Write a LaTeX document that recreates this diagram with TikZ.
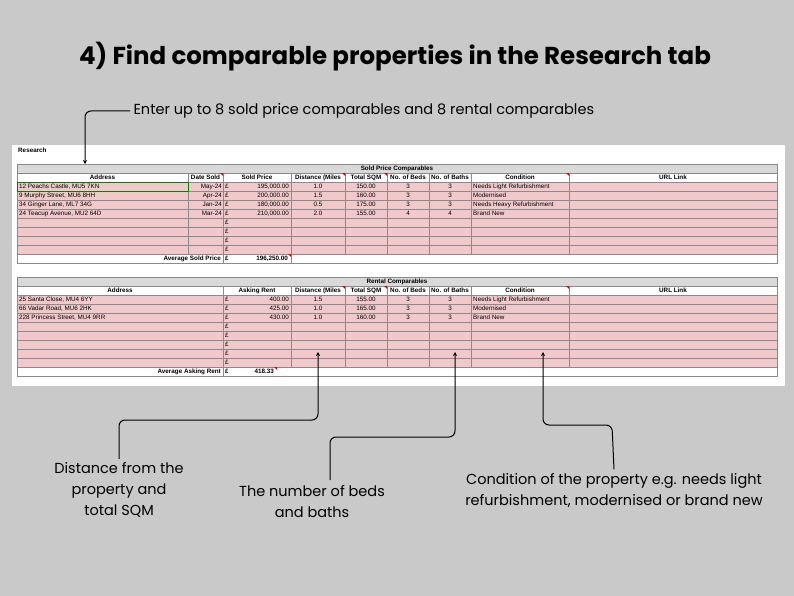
\documentclass[tikz,border=0pt]{standalone}
\usepackage{fontspec}
\setmainfont{Poppins}
\newfontfamily\tabfont{Liberation Sans}
\usetikzlibrary{arrows.meta}
\definecolor{bg}{HTML}{C9C9C9}
\definecolor{pinkc}{HTML}{F2C9CB}
\definecolor{hdr}{HTML}{D9D9D9}
\definecolor{gl}{HTML}{8A8A8A}
\tikzset{
 cell/.style={font=\tabfont\fontsize{6.3}{6.3}\selectfont,inner sep=1pt},
 bcell/.style={cell,font=\tabfont\bfseries\fontsize{6.3}{6.3}\selectfont},
 callout/.style={line width=1pt,rounded corners=6pt},
 arr/.style={callout,-{Stealth[length=4pt,width=4pt]}},
 note/.style={font=\fontsize{14.5}{21}\selectfont,align=center}
}
\newcommand{\redmark}[2]{\fill[red!80!black] (#1-3,#2) -- (#1,#2) -- (#1,#2+3) -- cycle;}
\begin{document}
\begin{tikzpicture}[x=1pt,y=-1pt]
\fill[bg] (0,0) rectangle (794,596);
\useasboundingbox (0,0) rectangle (794,596);
\fill[white] (12,145) rectangle (785,386);
\node[font=\bfseries\fontsize{24.5}{28}\selectfont] (title) at (395,57) {4) Find comparable properties in the Research tab};
\node[font=\fontsize{14.5}{17}\selectfont,anchor=west] (enter) at (130,111) {Enter up to 8 sold price comparables and 8 rental comparables};
\node[bcell,anchor=west] (res) at (17,150) {Research};
% ---------- Sold table
\fill[hdr] (17,164) rectangle (777,173);
\fill[pinkc] (17,182) rectangle (777,254);
\foreach \y in {191,200,...,254} \draw[gl,line width=0.3pt] (17,\y) -- (777,\y);
\draw[gl,line width=0.4pt] (17,164) rectangle (777,263);
\draw[gl,line width=0.4pt] (17,173) -- (777,173) (17,182) -- (777,182) (17,254) -- (777,254);
\foreach \x in {188,223,291,345,387,429,471,569} \draw[gl,line width=0.3pt] (\x,173) -- (\x,254);
\draw[gl,line width=0.3pt] (223,254) -- (223,263) (291,254)--(291,263);
\draw[green!50!black,line width=0.4pt] (17,182) rectangle (188,191);
\node[bcell] at (397,168.5) {Sold Price Comparables};
\foreach \t/\x in {Address/102.5,Date Sold/205.5,Sold Price/257,Distance (Miles/318,Total SQM/366,No. of Beds/408,No. of Baths/450,Condition/520,URL Link/673}
  \node[bcell] at (\x,177.5) {\t};
\foreach \a/\d/\p/\di/\s/\b/\ba/\c [count=\i] in {
 {12 Peachs Castle, MU5 7KN}/May-24/{195,000.00}/1.0/150.00/3/3/Needs Light Refurbishment,
 {9 Murphy Street, MU6 8HH}/Apr-24/{200,000.00}/1.5/160.00/3/3/Modernised,
 {34 Ginger Lane, ML7 34G}/Jan-24/{180,000.00}/0.5/175.00/3/3/Needs Heavy Refurbishment,
 {24 Teacup Avenue, MU2 64D}/Mar-24/{210,000.00}/2.0/155.00/4/4/Brand New}{
 \pgfmathsetmacro\yy{177.5+9*\i}
 \node[cell,anchor=west] at (18,\yy) {\a};
 \node[cell,anchor=east] at (223,\yy) {\d};
 \node[cell,anchor=east] at (290,\yy) {\p};
 \node[cell] at (318,\yy) {\di};
 \node[cell] at (366,\yy) {\s};
 \node[cell] at (408,\yy) {\b};
 \node[cell] at (450,\yy) {\ba};
 \node[cell,anchor=west] at (472,\yy) {\c};}
\foreach \i in {1,...,8} \node[cell,anchor=west] at (224,177.5+9*\i) {£};
\node[bcell,anchor=east] at (222,258.5) {Average Sold Price};
\node[bcell,anchor=west] at (224,258.5) {£};
\node[bcell,anchor=east] at (289,258.5) {196,250.00};
\redmark{223}{173}\redmark{345}{173}\redmark{387}{173}\redmark{569}{173}\redmark{291}{254}
% ---------- Rental table
\fill[hdr] (17,277) rectangle (777,286);
\fill[pinkc] (17,295) rectangle (777,367);
\foreach \y in {304,313,...,367} \draw[gl,line width=0.3pt] (17,\y) -- (777,\y);
\draw[gl,line width=0.4pt] (17,277) rectangle (777,376);
\draw[gl,line width=0.4pt] (17,286) -- (777,286) (17,295) -- (777,295) (17,367) -- (777,367);
\foreach \x in {223,291,345,387,429,471,569} \draw[gl,line width=0.3pt] (\x,286) -- (\x,367);
\draw[gl,line width=0.3pt] (223,367) -- (223,376);
\node[bcell] at (397,281.5) {Rental Comparables};
\foreach \t/\x in {Address/120,Asking Rent/257,Distance (Miles/318,Total SQM/366,No. of Beds/408,No. of Baths/450,Condition/520,URL Link/673}
  \node[bcell] at (\x,290.5) {\t};
\foreach \a/\p/\di/\s/\b/\ba/\c [count=\i] in {
 {25 Santa Close, MU4 6YY}/400.00/1.5/155.00/3/3/Needs Light Refurbishment,
 {66 Vadar Road, MU6 2HK}/425.00/1.0/165.00/3/3/Modernised,
 {228 Princess Street, MU4 9RR}/430.00/1.0/160.00/3/3/Brand New}{
 \pgfmathsetmacro\yy{290.5+9*\i}
 \node[cell,anchor=west] at (18,\yy) {\a};
 \node[cell,anchor=east] at (290,\yy) {\p};
 \node[cell] at (318,\yy) {\di};
 \node[cell] at (366,\yy) {\s};
 \node[cell] at (408,\yy) {\b};
 \node[cell] at (450,\yy) {\ba};
 \node[cell,anchor=west] at (472,\yy) {\c};}
\foreach \i in {1,...,8} \node[cell,anchor=west] at (224,290.5+9*\i) {£};
\node[bcell,anchor=east] at (222,371.5) {Average Asking Rent};
\node[bcell,anchor=west] at (224,371.5) {£};
\node[bcell,anchor=east] at (275,371.5) {418.33};
\redmark{345}{286}\redmark{387}{286}\redmark{569}{286}\redmark{277}{367}
% ---------- callouts
\coordinate (t1) at (85,164);
\coordinate (t2) at (318,352);
\coordinate (t3) at (455,352);
\coordinate (t4) at (543,352);
\draw[arr] (enter.west) -- (85,111) -- (t1);
\node[note] (n1) at (119,490) {Distance from the\\property and\\ total SQM};
\node[note] (n2) at (312,502) {The number of beds\\and baths};
\node[note] (n3) at (614,490) {Condition of the property e.g. needs light\\refurbishment, modernised or brand new};
\draw[arr] (n1.north) -- (119,420) -- (318,420) -- (t2);
\draw[arr] (330,480) -- (330,437) -- (455,437) -- (t3);
\draw[arr] (n3.north) -- (612,425) -- (543,425) -- (t4);
\end{tikzpicture}
\end{document}
